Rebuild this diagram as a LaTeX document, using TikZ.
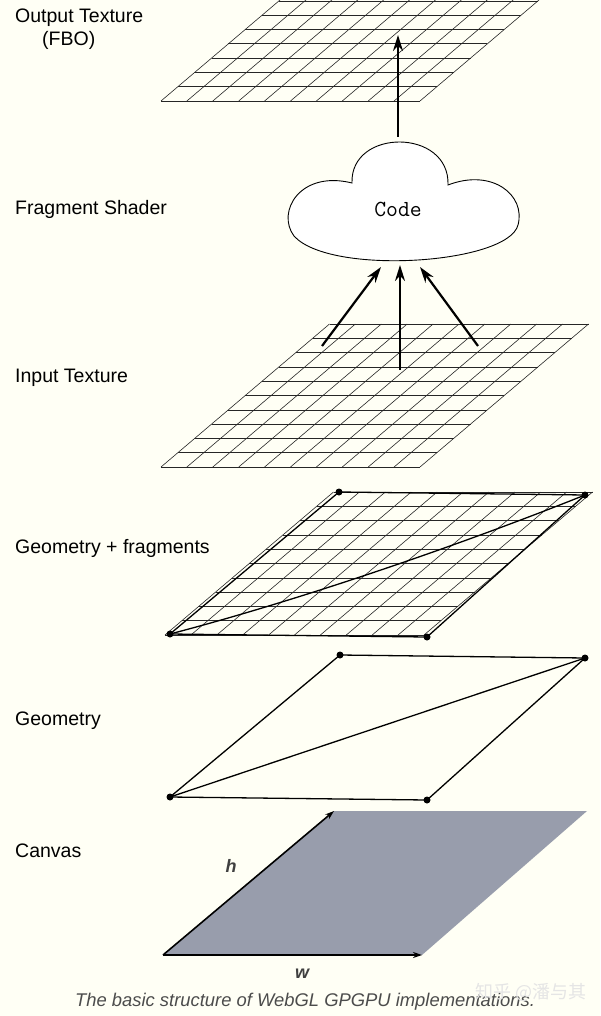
\documentclass[tikz,border=0pt]{standalone}
\usepackage{fontspec}
\setmainfont{Liberation Sans}
\newfontfamily\cjk{Noto Sans CJK SC}
\usetikzlibrary{arrows.meta}
\definecolor{bg}{RGB}{255,255,245}
\definecolor{canv}{RGB}{152,157,172}
\newcommand{\mygrid}[2]{%
  \foreach \i in {0,...,10}{\draw[gridl] ({#1+16.85*\i},{#2-14.3*\i}) -- ++(259,0);}
  \foreach \j in {0,...,10}{\draw[gridl] ({#1+25.9*\j},#2) -- ++(168.5,-143);}
}
\begin{document}
\begin{tikzpicture}[x=1pt,y=-1pt,
  gridl/.style={line width=0.6pt,black!85},
  lbl/.style={anchor=west,font=\fontsize{19.5}{22}\selectfont,inner sep=0pt},
  thick arrow/.style={line width=2.2pt,-{Stealth[length=16pt,width=10pt]}},
  dot/.style={circle,fill=black,inner sep=0pt,minimum size=7pt},
  edge/.style={line width=1.3pt}]
\fill[bg] (0,0) rectangle (600,1016);
\useasboundingbox (0,0) rectangle (600,1016);
\clip (0,0) rectangle (600,1016);
% labels
\node[lbl] (lout) at (15,18) {Output Texture};
\node[lbl] (lfbo) at (42,40) {(FBO)};
\node[lbl] (lfs) at (15,209) {Fragment Shader};
\node[lbl] (lin) at (15,378) {Input Texture};
\node[lbl] (lgf) at (15,548) {Geometry + fragments};
\node[lbl] (lg) at (15,721) {Geometry};
\node[lbl] (lc) at (15,851) {Canvas};
% output texture grid
\mygrid{161}{101}
% input texture grid
\mygrid{161}{467}
% cloud
\draw[line width=0.9pt,fill=white] (352,183) .. controls (350,128) and (450,128) .. (448,185)
  .. controls (492,168) and (526,195) .. (518,225)
  .. controls (508,264) and (330,276) .. (294,236)
  .. controls (276,212) and (300,170) .. (352,183) -- cycle;
\node[font=\ttfamily\fontsize{23}{26}\selectfont] (code) at (398,209) {Code};
\coordinate (outtip) at (398,35);
\coordinate (outbase) at (398,137);
\draw[thick arrow] (outbase) -- (outtip);
\coordinate (a1) at (322,346); \coordinate (t1) at (381,267);
\coordinate (a2) at (400,370); \coordinate (t2) at (400,265);
\coordinate (a3) at (478,346); \coordinate (t3) at (420,267);
\draw[thick arrow] (a1) -- (t1);
\draw[thick arrow] (a2) -- (t2);
\draw[thick arrow] (a3) -- (t3);
% geometry + fragments
\mygrid{165}{635}
\node[dot] (f1) at (170,634) {};
\node[dot] (f2) at (427,637) {};
\node[dot] (f3) at (585,495) {};
\node[dot] (f4) at (339,492) {};
\draw[edge] (f1.center) -- (f2.center) -- (f3.center) -- (f4.center) -- cycle;
\draw[edge] (f1.center) .. controls (300,600) and (460,545) .. (f3.center);
% geometry
\node[dot] (g1) at (170,797) {};
\node[dot] (g2) at (427,800) {};
\node[dot] (g3) at (585,658) {};
\node[dot] (g4) at (340,655) {};
\draw[edge] (g1.center) -- (g2.center) -- (g3.center) -- (g4.center) -- cycle;
\draw[edge] (g1.center) -- (g3.center);
% canvas
\coordinate (c1) at (163,955); \coordinate (c2) at (422,955);
\coordinate (c3) at (587,811); \coordinate (c4) at (334,811);
\fill[canv] (c1) -- (c2) -- (c3) -- (c4) -- cycle;
\draw[line width=1.6pt,-{Stealth[length=9pt,width=6pt]}] (c1) -- (c4);
\draw[line width=1.6pt,-{Stealth[length=9pt,width=6pt]}] (c1) -- (c2);
\node[font=\bfseries\itshape\fontsize{18}{20}\selectfont,text=black!75] (h) at (231,866) {h};
\node[font=\bfseries\itshape\fontsize{18}{20}\selectfont,text=black!75] (w) at (302,974) {w};
\node[font=\itshape\fontsize{18.4}{20}\selectfont,text=black!70] (cap) at (305,1002) {The basic structure of WebGL GPGPU implementations.};
\node[font=\cjk\fontsize{18}{20}\selectfont,text=white!80!gray,anchor=west] (wm) at (472,992) {知乎 @潘与其};
\end{tikzpicture}
\end{document}
